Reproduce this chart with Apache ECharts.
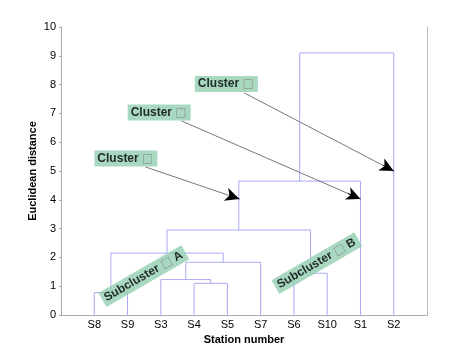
<!DOCTYPE html>
<html>
<head>
<meta charset="utf-8">
<script src="https://cdn.jsdelivr.net/npm/echarts@6/dist/echarts.min.js"></script>
<style>
  html, body { margin: 0; padding: 0; background: #fff; }
  #chart { width: 474px; height: 355px; }
</style>
</head>
<body>
<div id="chart"></div>
<script>
// leaf order along the x axis
var stations = ['S8', 'S9', 'S3', 'S4', 'S5', 'S7', 'S6', 'S10', 'S1', 'S2'];
// merges: node ids < 10 are leaves, merge k creates node 10 + k
var mergeLeft   = [0, 3, 2,  6, 12, 10, 15, 16, 17];
var mergeRight  = [1, 4, 11, 7, 5,  14, 13, 8,  9];
var mergeHeight = [0.78, 1.1, 1.23, 1.45, 1.83, 2.15, 2.95, 4.65, 9.1];
var yTicks = [0, 1, 2, 3, 4, 5, 6, 7, 8, 9, 10];

// annotations: [x, y, text]
var clusterLabels = [
  [4.97, 8.02, 'Cluster {g|□}'],
  [2.95, 7.03, 'Cluster {g|□}'],
  [1.95, 5.43, 'Cluster {g|□}']
];
var subLabels = [
  [2.49, 1.35, 'Subcluster {g|□} A'],
  [7.69, 1.80, 'Subcluster {g|□} B']
];
var arrows = [
  [[5.51, 7.71], [10, 5.0]],
  [[3.62, 6.74], [9, 4.03]],
  [[2.54, 5.14], [5.36, 4.03]]
];

var myChart = echarts.init(document.getElementById('chart'));

// node positions
var nodeX = [], nodeY = [];
stations.forEach(function (s, i) { nodeX.push(i + 1); nodeY.push(0); });
var series = [];
mergeHeight.forEach(function (h, k) {
  var a = mergeLeft[k], b = mergeRight[k];
  series.push({
    type: 'line',
    data: [[nodeX[a], nodeY[a]], [nodeX[a], h], [nodeX[b], h], [nodeX[b], nodeY[b]]],
    symbol: 'none',
    silent: true,
    lineStyle: { color: '#aaaaf4', width: 1 },
    z: 2
  });
  nodeX.push((nodeX[a] + nodeX[b]) / 2);
  nodeY.push(h);
});

var labelBox = {
  show: true,
  position: 'inside',
  color: '#000',
  fontFamily: 'Liberation Sans',
  fontWeight: 'bold',
  fontSize: 12,
  backgroundColor: '#92ceb0',
  padding: [2, 4, 2, 3],
  rich: { g: { color: '#888', fontWeight: 'normal', fontSize: 12, fontFamily: 'DejaVu Sans' } },
  formatter: function (p) { return p.data[2]; }
};

// arrow heads: short black piece at the end of each arrow
var heads = arrows.map(function (a) {
  var s = a[0], e = a[1];
  var t = 0.93;
  return [{ coord: [s[0] + (e[0] - s[0]) * t, s[1] + (e[1] - s[1]) * t] }, { coord: e }];
});

series.push({
  type: 'scatter',
  data: clusterLabels,
  symbolSize: 1,
  itemStyle: { color: 'rgba(0,0,0,0)' },
  label: labelBox,
  z: 5,
  markLine: {
    silent: true,
    symbol: ['none', 'none'],
    label: { show: false },
    lineStyle: { color: '#777', width: 1, type: 'solid' },
    data: arrows.map(function (a) { return [{ coord: a[0] }, { coord: a[1] }]; })
  }
});
series.push({
  type: 'scatter',
  data: subLabels,
  symbolSize: 1,
  itemStyle: { color: 'rgba(0,0,0,0)' },
  label: Object.assign({}, labelBox, { rotate: 30 }),
  z: 5,
  markLine: {
    silent: true,
    symbol: ['none', 'arrow'],
    symbolSize: [10, 14],
    label: { show: false },
    lineStyle: { color: '#000', width: 1, type: 'solid' },
    data: heads
  }
});

var option = {
  animation: false,
  grid: { left: 61, right: 47, top: 27, bottom: 40 },
  xAxis: {
    type: 'value',
    min: 0,
    max: 11,
    interval: 1,
    name: 'Station number',
    nameLocation: 'middle',
    nameGap: 18,
    nameTextStyle: { fontFamily: 'Liberation Sans', fontWeight: 'bold', fontSize: 11, color: '#000' },
    axisLine: { lineStyle: { color: '#aaa' } },
    axisTick: { show: false },
    splitLine: { show: false },
    axisLabel: {
      margin: 4,
      color: '#000',
      fontFamily: 'Liberation Sans',
      fontSize: 11,
      formatter: function (v) { return stations[v - 1] || ''; }
    }
  },
  yAxis: [{
    type: 'value',
    min: yTicks[0],
    max: yTicks[yTicks.length - 1],
    interval: 1,
    name: 'Euclidean distance',
    nameLocation: 'middle',
    nameGap: 23,
    nameMoveOverlap: false,
    nameTextStyle: { fontFamily: 'Liberation Sans', fontWeight: 'bold', fontSize: 11, color: '#000' },
    axisLine: { show: true, lineStyle: { color: '#aaa' } },
    axisTick: { show: true, length: 2, lineStyle: { color: '#aaa' } },
    splitLine: { show: false },
    axisLabel: { margin: 5, color: '#000', fontFamily: 'Liberation Sans', fontSize: 11 }
  }, {
    type: 'value',
    position: 'right',
    min: 0,
    max: 10,
    axisLine: { show: true, lineStyle: { color: '#bbb' } },
    axisTick: { show: false },
    axisLabel: { show: false },
    splitLine: { show: false }
  }],
  series: series
};
myChart.setOption(option, true);
</script>
</body>
</html>
